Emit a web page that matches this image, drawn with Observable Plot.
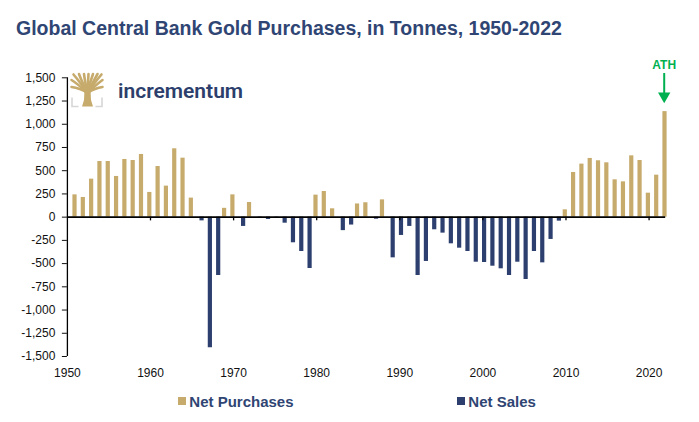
<!DOCTYPE html>
<html>
<head>
<meta charset="utf-8">
<script src="https://cdn.jsdelivr.net/npm/d3@7"></script>
<script src="https://cdn.jsdelivr.net/npm/@observablehq/plot@0.6"></script>
<style>
  body { margin: 0; background: #fff; font-family: Arial, "Liberation Sans", sans-serif; }
  #fig { position: relative; width: 699px; height: 422px; overflow: hidden; background: #fff; }
  #title { position: absolute; left: 16px; top: 17px; font-size: 19.5px; font-weight: bold; color: #2F4573; line-height: 22px; white-space: nowrap; }
  #chart { position: absolute; left: 0; top: 50px; }
  #brand { position: absolute; left: 118px; top: 79px; font-family: Roboto, "Noto Sans", sans-serif; font-weight: 600; font-size: 21px; line-height: 24px; color: #2C3E6B; white-space: nowrap; }
  #tree { position: absolute; left: 66px; top: 68px; }
  .key { position: absolute; font-size: 15px; font-weight: bold; line-height: 17px; color: #2F4573; white-space: nowrap; }
  .swatch { position: absolute; width: 8.3px; height: 8.3px; }
</style>
</head>
<body>
<div id="fig">
  <div id="title">Global Central Bank Gold Purchases, in Tonnes, 1950-2022</div>
  <div id="chart"></div>
  <svg id="tree" width="42" height="44" viewBox="66 68 42 44">
    <g fill="none" stroke="#D6D6D6" stroke-width="1.6">
      <path d="M72,97.5 V106.5 H78.5"/>
      <path d="M102,97.5 V106.5 H95.5"/>
    </g>
    <g fill="none" stroke="#C6AB6C" stroke-width="2.6" stroke-linecap="round">
      <path d="M87.5,93 Q80,88 71.5,87"/>
      <path d="M87.5,93 Q78,84 71.5,80"/>
      <path d="M87.5,93 Q80,82 73.5,74.5"/>
      <path d="M87.5,93 Q82,82 79,74"/>
      <path d="M87.5,93 Q85,82 84,74"/>
      <path d="M87.5,93 Q88,82 88.5,74"/>
      <path d="M87.5,93 Q90,82 93,74"/>
      <path d="M87.5,93 Q93,82 97.5,74"/>
      <path d="M87.5,93 Q95,82 101.5,74.5"/>
      <path d="M87.5,93 Q97,84 102.5,80"/>
      <path d="M87.5,93 Q95,88 102.5,87"/>
    </g>
    <path d="M84.5,90 L90.5,90 L91,100 L93,106.5 L82,106.5 L84,100 Z" fill="#C6AB6C"/>
  </svg>
  <div id="brand">incrementum</div>
  <div class="swatch" style="left:177.7px; top:396.7px; background:#C6AB6C"></div>
  <div class="key" style="left:189.3px; top:392.8px">Net Purchases</div>
  <div class="swatch" style="left:456.7px; top:396.7px; background:#2C3F6E"></div>
  <div class="key" style="left:468.3px; top:392.8px">Net Sales</div>
</div>
<script>
// Net central bank gold purchases (+) and sales (−) per year, in tonnes
const years = d3.range(1951, 2023);
const tonnes = [
  240, 212, 409, 599, 599, 438, 621, 610, 675, 266,   // 1951–1960
  545, 334, 736, 635, 205, -40, -1407, -628, 95, 240, // 1961–1970
  -100, 158, -10, -25, -10, -65, -276, -370, -553, 237, // 1971–1980
  276, 90, -145, -85, 142, 155, -22, 186, -438, -197,  // 1981–1990
  -100, -628, -477, -136, -172, -287, -334, -370, -485, -488, // 1991–2000
  -528, -556, -628, -485, -671, -370, -492, -240, -43, 79,    // 2001–2010
  481, 571, 632, 607, 585, 402, 380, 660, 610, 258,    // 2011–2020
  452, 1136                                            // 2021–2022
];
const xTicks = [1950, 1960, 1970, 1980, 1990, 2000, 2010, 2020];
const yTicks = [-1500, -1250, -1000, -750, -500, -250, 0, 250, 500, 750, 1000, 1250, 1500];
const athYear = 2022;
const athLabel = "ATH";

const gold = "#C6AB6C";
const navy = "#2C3F6E";
const green = "#00B050";

const rows = years.map((year, i) => ({year, tonnes: tonnes[i]}));
const purchases = rows.filter(d => d.tonnes >= 0);
const sales = rows.filter(d => d.tonnes < 0);
const ath = rows.filter(d => d.year === athYear);

const chart = Plot.plot({
  width: 699,
  height: 340,
  marginLeft: 66.9,
  marginRight: 33.8,
  marginTop: 27.3,
  marginBottom: 34,
  x: {domain: [1950, 2022]},
  y: {domain: [-1500, 1500]},
  style: {fontFamily: "Arial, 'Liberation Sans', sans-serif", fontSize: "12px", color: "#111", background: "transparent"},
  marks: [
    // bars: purchases sit just left of the year, sales just right
    Plot.ruleX(purchases, {x: "year", y1: 0, y2: "tonnes", stroke: gold, strokeWidth: 4.2, dx: -1.2}),
    Plot.ruleX(sales, {x: "year", y1: 0, y2: "tonnes", stroke: navy, strokeWidth: 4.2, dx: 1.2}),
    // zero baseline with decade tick marks hanging below it
    Plot.ruleY([0], {stroke: "#000", strokeWidth: 1.6}),
    Plot.ruleX(xTicks.slice(1), {x: d => d, y1: 0, y2: -40, stroke: "#000", strokeWidth: 1.3}),
    // vertical axis line
    Plot.ruleX([1950], {y1: -1500, y2: 1500, stroke: "#000", strokeWidth: 1.3}),
    Plot.axisY({ticks: yTicks, tickSize: 5, tickPadding: 7, tickFormat: d => d.toLocaleString("en-US"), label: null}),
    Plot.axisX({ticks: xTicks, tickSize: 0, tickPadding: 12, tickFormat: d => String(d), label: null}),
    // all-time-high callout
    Plot.ruleX(ath, {x: "year", y1: d => d.tonnes + 190, y2: d => d.tonnes + 410, stroke: green, strokeWidth: 2, dx: -1.5}),
    Plot.dot(ath, {x: "year", y: d => d.tonnes + 166, symbol: "triangle", rotate: 180, r: 4.6, fill: green, stroke: "none", dx: -1.5}),
    Plot.text(ath, {x: "year", y: d => d.tonnes + 495, text: () => athLabel, fill: green, fontWeight: "bold", fontSize: 12, dx: -1.5})
  ]
});
document.getElementById("chart").append(chart);
</script>
</body>
</html>
